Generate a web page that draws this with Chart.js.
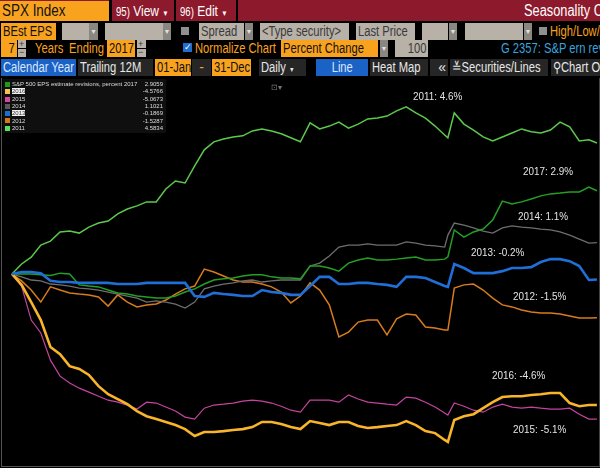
<!DOCTYPE html>
<html>
<head>
<meta charset="utf-8">
<script src="https://cdn.jsdelivr.net/npm/chart.js@4.4.0/dist/chart.umd.min.js"></script>
<style>
body { margin:0; background:#000; width:600px; height:468px; overflow:hidden; position:relative;
  font-family:"Liberation Sans",Arial,sans-serif; }
.b { position:absolute; box-sizing:border-box; height:17px; line-height:17px; font-size:14px; white-space:nowrap; overflow:hidden; padding:0 2px; }
.ob { background:#f9a21e; color:#111; }
.gb { background:#b7b1a7; color:#3a3a3a; }
.dd { background:#8a8680; color:#e0e0e0; font-size:7px; text-align:center; padding:0; }
.db { background:#262626; color:#e8e8e8; }
.bb { background:#1b62c6; color:#dce8ff; }
.t { position:absolute; font-size:14px; line-height:17px; white-space:nowrap; }
.s { display:inline-block; transform:scaleX(.8); transform-origin:0 50%; }
.sc { display:inline-block; transform:scaleX(.8); transform-origin:50% 50%; }
.sr { display:inline-block; transform:scaleX(.8); transform-origin:100% 50%; }
.ck { position:absolute; width:8px; height:8px; background:#8f8f8f; }
.lbl { position:absolute; color:#e4e4e4; font-size:11px; white-space:nowrap; transform:scaleX(.9); transform-origin:0 50%; }
#leg { position:absolute; left:3px; top:79px; width:163px; height:54px; background:#0f0f0f; font-size:6px; color:#ddd; }
#leg div { position:absolute; left:2px; height:7px; line-height:7px; width:159px; white-space:nowrap; }
#leg i { display:inline-block; width:5px; height:5px; margin-right:2px; vertical-align:middle; }
#leg span.v { position:absolute; right:1px; }
#leg span.h { background:#f0f0f0; color:#333; }
</style>
</head>
<body>
<!-- barra superior -->
<div style="position:absolute;left:0;top:0;width:600px;height:21px;background:#8d1a2c"></div>
<div class="b ob" style="left:0;top:1px;width:109px;height:20px;line-height:20px;font-size:16px"><span class="s" style="transform:scaleX(.84)">SPX Index</span></div>
<div style="position:absolute;left:109px;top:0;width:3px;height:21px;background:#000"></div>
<div class="t" style="left:116px;top:1px;color:#fff;font-size:15px;line-height:20px"><span class="s"><span style="font-size:12px">95)</span> View <span style="font-size:8px">▼</span></span></div>
<div style="position:absolute;left:174px;top:0;width:2px;height:21px;background:#000"></div>
<div class="t" style="left:180px;top:1px;color:#fff;font-size:15px;line-height:20px"><span class="s"><span style="font-size:12px">96)</span> Edit <span style="font-size:8px">▼</span></span></div>
<div style="position:absolute;left:236px;top:0;width:2px;height:21px;background:#000"></div>
<div class="t" style="left:524px;top:1px;color:#fff;font-size:16px;line-height:20px"><span class="s">Seasonality Chart</span></div>

<!-- fila 2 -->
<div class="b ob" style="left:1px;top:23px;width:55px"><span class="s">BEst EPS</span></div>
<div class="b gb" style="left:62px;top:23px;width:27px"></div>
<div class="b dd" style="left:89px;top:23px;width:9px">▼</div>
<div class="b gb" style="left:105px;top:23px;width:58px"></div>
<div class="b dd" style="left:163px;top:23px;width:8px">▼</div>
<div class="ck" style="left:181px;top:27px"></div>
<div class="b gb" style="left:199px;top:23px;width:45px"><span class="s">Spread</span></div>
<div class="b dd" style="left:245px;top:23px;width:8px">▼</div>
<div class="b gb" style="left:260px;top:23px;width:89px"><span class="s">&lt;Type security&gt;</span></div>
<div class="b gb" style="left:356px;top:23px;width:59px"><span class="s">Last Price</span></div>
<div class="b gb" style="left:422px;top:23px;width:26px"></div>
<div class="b dd" style="left:449px;top:23px;width:8px">▼</div>
<div class="b gb" style="left:465px;top:23px;width:58px"></div>
<div class="b dd" style="left:524px;top:23px;width:8px">▼</div>
<div class="ck" style="left:539px;top:27px"></div>
<div class="t" style="left:550px;top:23px;color:#f9a21e"><span class="s">High/Low/Avg</span></div>

<!-- fila 3 -->
<div class="b ob" style="left:1px;top:40px;width:16px;text-align:right"><span class="sr">7</span></div>
<div class="b gb" style="left:18px;top:40px;width:8px;height:8px;line-height:8px;font-size:9px;padding:0 1px">+</div>
<div class="b gb" style="left:18px;top:49px;width:8px;height:8px;line-height:7px;font-size:9px;padding:0 1px">−</div>
<div class="t" style="left:35px;top:40px;color:#f9a21e"><span class="s">Years</span></div>
<div class="t" style="left:69px;top:40px;color:#f9a21e"><span class="s">Ending</span></div>
<div class="b ob" style="left:107px;top:40px;width:28px"><span class="s">2017</span></div>
<div class="b gb" style="left:137px;top:40px;width:9px;height:8px;line-height:8px;font-size:9px;padding:0 1px">+</div>
<div class="b gb" style="left:137px;top:49px;width:9px;height:8px;line-height:7px;font-size:9px;padding:0 1px">−</div>
<div style="position:absolute;left:183px;top:43px;width:9px;height:9px;background:#1e6fd0;color:#fff;font-size:9px;line-height:9px;text-align:center">✓</div>
<div class="t" style="left:195px;top:40px;color:#f9a21e"><span class="s">Normalize Chart</span></div>
<div class="b ob" style="left:281px;top:40px;width:97px"><span class="s">Percent Change</span></div>
<div class="b dd" style="left:380px;top:40px;width:8px">▼</div>
<div class="b gb" style="left:395px;top:40px;width:33px;text-align:right"><span class="sr">100</span></div>
<div class="t" style="left:501px;top:40px;color:#3aa4dc"><span class="s">G 2357: S&amp;P ern rev</span></div>

<!-- fila 4 -->
<div class="b bb" style="left:1px;top:59px;width:75px"><span class="s">Calendar Year</span></div>
<div class="b db" style="left:78px;top:59px;width:75px"><span class="s">Trailing 12M</span></div>
<div class="b ob" style="left:155px;top:59px;width:36px"><span class="s">01-Jan</span></div>
<div class="b db" style="left:192px;top:59px;width:19px;text-align:center;color:#f9a21e">-</div>
<div class="b ob" style="left:212px;top:59px;width:39px"><span class="s">31-Dec</span></div>
<div class="b db" style="left:259px;top:59px;width:47px"><span class="s">Daily <span style="font-size:7px">▼</span></span></div>
<div class="b bb" style="left:316px;top:59px;width:52px;text-align:center"><span class="sc">Line</span></div>
<div class="b db" style="left:370px;top:59px;width:58px"><span class="s">Heat Map</span></div>
<div class="b db" style="left:430px;top:59px;width:18px;text-align:right">«</div>
<div class="b db" style="left:450px;top:59px;width:98px"><span class="s">≚Securities/Lines</span></div>
<div class="b db" style="left:551px;top:59px;width:49px"><span class="s">⚲Chart Options</span></div>

<!-- marco del grafico -->
<div style="position:absolute;left:1px;top:78px;width:597px;height:388px;border-left:1px solid #555;border-bottom:1px solid #555;border-right:1px solid #444"></div>
<canvas id="myChart" width="596" height="388" style="position:absolute;left:3px;top:78px"></canvas>
<div style="position:absolute;left:271px;top:83px;color:#777;font-size:8px">⊡▾</div>

<div id="leg"></div>

<div class="lbl" style="left:413px;top:90px">2011: 4.6%</div>
<div class="lbl" style="left:523px;top:165px">2017: 2.9%</div>
<div class="lbl" style="left:518px;top:210px">2014: 1.1%</div>
<div class="lbl" style="left:471px;top:246px">2013: -0.2%</div>
<div class="lbl" style="left:513px;top:290px">2012: -1.5%</div>
<div class="lbl" style="left:492px;top:369px">2016: -4.6%</div>
<div class="lbl" style="left:513px;top:423px">2015: -5.1%</div>

<script>
// dia del año de cada muestra
var days = [0,6,12,18,24,30,36,42,48,54,60,66,72,78,84,90,96,102,108,114,120,126,132,138,144,150,156,162,168,174,180,
  186,192,198,204,210,216,222,228,234,240,246,252,258,264,270,272,276,282,288,294,300,306,312,318,324,330,336,342,348,354,360,365];

// revisiones acumuladas, % desde el 1 de enero
var y2017 = [0,0,0,-0.03,-0.05,0.03,0,-0.38,-0.42,-0.45,-0.56,-0.66,-0.70,-0.77,-0.80,-0.84,-0.84,-0.77,-0.63,-0.52,-0.35,
  -0.21,-0.17,-0.14,-0.07,-0.03,-0.03,-0.10,-0.14,-0.14,-0.17,0.28,0.28,0.21,0.10,0.38,0.49,0.56,0.49,0.49,0.52,0.56,0.59,
  0.49,0.49,0.52,0.60,1.54,1.29,1.47,1.57,1.89,2.55,2.45,2.52,2.62,2.73,2.80,2.83,2.87,2.87,3.04,2.91];
var y2016 = [0,-0.38,-0.98,-1.61,-2.55,-2.80,-3.22,-3.32,-3.53,-3.92,-4.20,-4.37,-4.55,-4.79,-4.97,-5.07,-5.17,-5.28,-5.42,
  -5.66,-5.52,-5.52,-5.49,-5.45,-5.42,-5.35,-5.17,-5.17,-5.24,-5.35,-5.42,-5.14,-5.21,-5.28,-5.17,-5.17,-5.31,-5.38,-5.35,
  -5.31,-5.28,-5.14,-5.28,-5.49,-5.56,-5.80,-5.87,-5.10,-4.97,-4.90,-4.69,-4.48,-4.30,-4.27,-4.27,-4.23,-4.20,-4.16,-4.16,
  -4.51,-4.62,-4.58,-4.58];
var y2015 = [0,-0.42,-1.61,-2.06,-3.01,-3.57,-3.81,-3.99,-4.13,-4.27,-4.41,-4.48,-4.58,-4.72,-4.48,-4.51,-4.65,-4.79,-5.00,
  -5.07,-4.69,-4.58,-4.55,-4.51,-4.44,-4.41,-4.44,-4.51,-4.62,-4.76,-4.83,-4.41,-4.41,-4.41,-4.48,-4.23,-4.37,-4.48,-4.51,
  -4.55,-4.58,-4.30,-4.34,-4.48,-4.65,-4.86,-4.93,-4.51,-4.62,-4.76,-4.83,-4.65,-4.55,-4.65,-4.69,-4.65,-4.69,-4.72,-4.72,
  -4.69,-4.90,-5.07,-5.07];
var y2014 = [0,-0.10,-0.21,-0.24,-0.35,-0.38,-0.42,-0.49,-0.52,-0.56,-0.63,-0.70,-0.77,-0.84,-0.98,-0.94,-0.98,-1.05,-1.19,
  -0.98,-0.52,-0.42,-0.35,-0.31,-0.24,-0.21,-0.28,-0.24,-0.21,-0.21,-0.21,0.28,0.38,0.63,0.94,1.01,1.01,1.05,1.01,1.01,1.01,
  1.12,1.08,1.01,0.98,0.94,1.36,1.78,1.71,1.61,1.50,1.43,1.61,1.68,1.64,1.61,1.57,1.54,1.47,1.36,1.22,1.08,1.10];
var y2013 = [0,0.07,0.07,0.03,-0.24,-0.28,-0.28,-0.31,-0.31,-0.31,-0.31,-0.35,-0.35,-0.35,-0.31,-0.31,-0.31,-0.31,-0.31,
  -0.77,-0.80,-0.66,-0.70,-0.73,-0.77,-0.77,-0.56,-0.63,-0.66,-0.73,-0.73,-0.42,-0.10,-0.10,-0.35,-0.35,-0.31,-0.31,-0.35,
  -0.38,-0.45,-0.10,-0.10,-0.14,-0.28,-0.42,-0.45,0.35,0.21,0.03,0.03,0.03,0.10,0.21,0.21,0.24,0.42,0.52,0.52,0.45,0.28,
  -0.21,-0.19];
var y2012 = [0,-0.24,-0.56,-0.98,-0.45,-0.56,-0.66,-0.70,-0.73,-0.80,-1.12,-0.73,-0.98,-1.15,-1.08,-1.05,-0.91,-0.70,-0.52,
  -0.42,0.17,0.07,-0.07,-0.21,-0.28,-0.28,-0.35,-0.45,-0.63,-1.01,-0.77,-0.31,-0.56,-1.08,-2.20,-2.03,-1.68,-1.61,-1.61,
  -2.13,-1.57,-1.40,-1.43,-1.85,-1.89,-1.96,-1.96,-0.49,-0.38,-0.35,-0.56,-0.84,-1.08,-1.15,-1.26,-1.33,-1.36,-1.36,-1.40,
  -1.47,-1.54,-1.54,-1.53];
var y2011 = [0,0.35,0.59,1.01,1.15,1.47,1.50,1.43,1.64,1.78,1.85,2.10,2.27,2.38,2.52,2.52,2.97,3.25,3.18,3.78,4.34,4.62,
  4.72,4.79,4.83,5.00,5.07,5.00,4.90,4.76,4.62,5.28,5.07,5.17,5.31,5.10,5.24,5.42,5.45,5.52,5.70,5.84,5.63,5.45,5.17,4.86,
  4.76,5.63,5.24,5.03,4.79,4.65,4.79,4.93,5.07,4.97,4.93,5.03,5.31,5.14,4.65,4.69,4.58];

var legendNames = ['S&P 500 EPS estimate revisions, percent 2017', '2016', '2015', '2014', '2013', '2012', '2011'];
var legendValues = ['2.9059', '-4.5766', '-5.0673', '1.1021', '-0.1869', '-1.5287', '4.5834'];

function puntos(vals) {
  return days.map(function (d, i) { return { x: d, y: vals[i] }; });
}

function inicializarGrafico() {
  var series = [
    { data: y2013, color: '#1f6fd6', width: 2.6, order: 0 },
    { data: y2016, color: '#f8b42a', width: 2.6, order: 1 },
    { data: y2015, color: '#c4449e', width: 1.2, order: 2 },
    { data: y2017, color: '#23a023', width: 1.5, order: 3 },
    { data: y2014, color: '#6e6e6e', width: 1.3, order: 4 },
    { data: y2012, color: '#d87b1c', width: 1.5, order: 5 },
    { data: y2011, color: '#5cc94c', width: 1.5, order: 6 }
  ];
  var ctx = document.getElementById('myChart').getContext('2d');
  new Chart(ctx, {
    type: 'line',
    data: {
      datasets: series.map(function (s) {
        return {
          data: puntos(s.data),
          borderColor: s.color,
          borderWidth: s.width,
          pointRadius: 0,
          tension: 0,
          order: s.order
        };
      })
    },
    options: {
      responsive: false,
      animation: false,
      layout: { padding: 0 },
      plugins: { legend: { display: false }, tooltip: { enabled: false } },
      scales: {
        x: { type: 'linear', display: false, min: -5.6, max: 366.3 },
        y: { display: false, min: -6.71, max: 6.85 }
      }
    }
  });
}

function leyenda() {
  var colores = ['#1c9a1c', '#f5c24c', '#d8479f', '#595959', '#1b6fd0', '#d07a18', '#5fdc5f'];
  var leg = document.getElementById('leg');
  legendNames.forEach(function (n, i) {
    var row = document.createElement('div');
    row.style.top = (2 + i * 7.3) + 'px';
    var cls = (n === '2016' || n === '2013') ? ' class="h"' : '';
    row.innerHTML = '<i style="background:' + colores[i] + '"></i><span' + cls + '>' +
      n.replace('&', '&amp;') + '</span><span class="v">' + legendValues[i] + '</span>';
    leg.appendChild(row);
  });
}

leyenda();
inicializarGrafico();
</script>
</body>
</html>
